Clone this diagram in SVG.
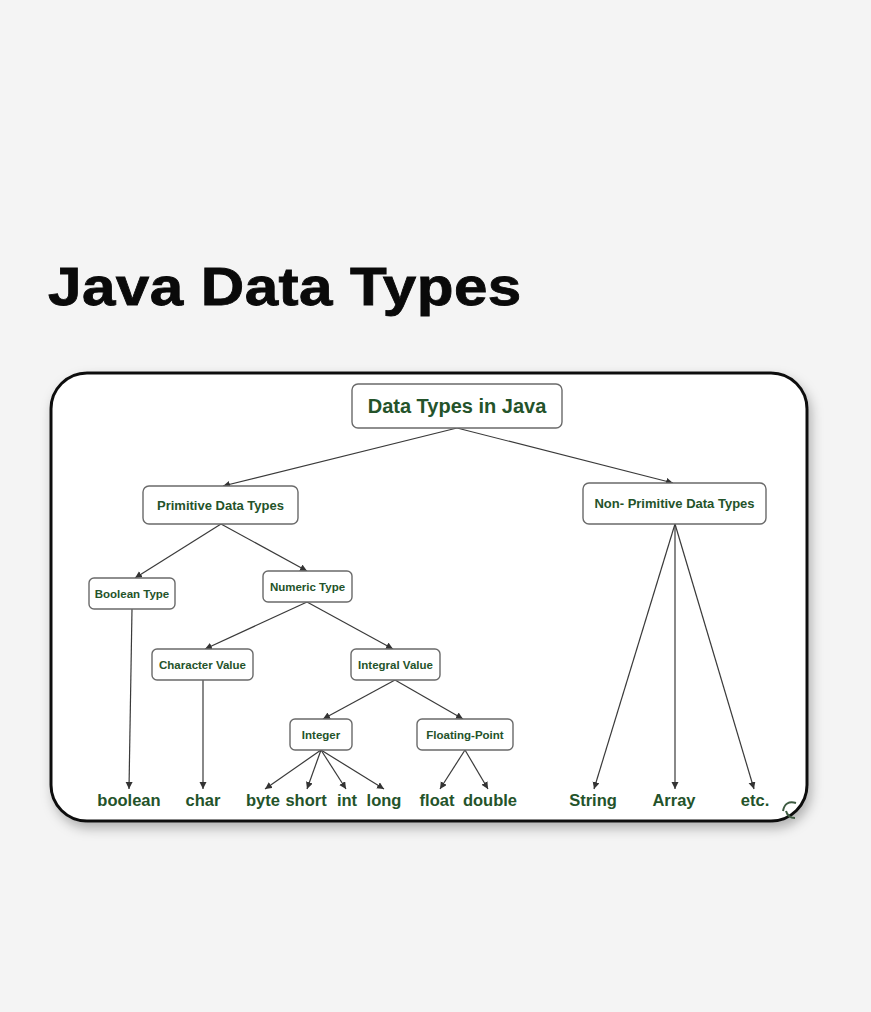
<svg xmlns="http://www.w3.org/2000/svg" width="871" height="1012" viewBox="0 0 871 1012">
  <defs>
    <filter id="shadow" x="-10%" y="-10%" width="120%" height="125%">
      <feDropShadow dx="3" dy="6" stdDeviation="6" flood-color="#000" flood-opacity="0.28"/>
    </filter>
    <marker id="arrow" markerUnits="userSpaceOnUse" markerWidth="8" markerHeight="8" refX="7" refY="3.5" orient="auto">
      <path d="M0,0 L7,3.5 L0,7 z" fill="#333"/>
    </marker>
    <style>
      .node rect { fill: #fff; stroke: #6a6a6a; stroke-width: 1.4; }
      .node text { font-family: "Liberation Sans", Arial, sans-serif; font-weight: bold; fill: #24532a; text-anchor: middle; }
      .leaf text { font-family: "Liberation Sans", Arial, sans-serif; font-weight: bold; fill: #24532a; text-anchor: middle; font-size: 16.5px; }
      .conn line { stroke: #3a3a3a; stroke-width: 1.2; marker-end: url(#arrow); }
    </style>
  </defs>

  <rect x="0" y="0" width="871" height="1012" fill="#f4f4f4"/>

  <text transform="translate(48,305) scale(1.135,1)" x="0" y="0" font-family="Liberation Sans, Arial, sans-serif" font-weight="bold" font-size="53" fill="#0a0a0a" stroke="#0a0a0a" stroke-width="0.8" textLength="417" lengthAdjust="spacing">Java Data Types</text>

  <rect x="51" y="373" width="756" height="448" rx="36" ry="36" fill="#fff" stroke="#111" stroke-width="3" filter="url(#shadow)"/>

  <g id="connectors" class="conn">
    <line x1="457" y1="428" x2="223" y2="486"/>
    <line x1="457" y1="428" x2="673" y2="483"/>
    <line x1="221" y1="524" x2="135" y2="578"/>
    <line x1="221" y1="524" x2="307" y2="571"/>
    <line x1="132" y1="609" x2="129" y2="789"/>
    <line x1="307" y1="602" x2="205" y2="649"/>
    <line x1="307" y1="602" x2="393" y2="649"/>
    <line x1="203" y1="680" x2="203" y2="789"/>
    <line x1="395" y1="680" x2="323" y2="719"/>
    <line x1="395" y1="680" x2="463" y2="719"/>
    <line x1="321" y1="750" x2="265" y2="789"/>
    <line x1="321" y1="750" x2="307" y2="789"/>
    <line x1="321" y1="750" x2="346" y2="789"/>
    <line x1="321" y1="750" x2="384" y2="789"/>
    <line x1="465" y1="750" x2="440" y2="789"/>
    <line x1="465" y1="750" x2="488" y2="789"/>
    <line x1="675" y1="524" x2="594" y2="789"/>
    <line x1="675" y1="524" x2="675" y2="789"/>
    <line x1="675" y1="524" x2="754" y2="789"/>
  </g>

  <g id="node-root" class="node">
    <rect x="352" y="384" width="210" height="44" rx="6"/>
    <text x="457" y="413" font-size="20">Data Types in Java</text>
  </g>
  <g id="node-primitive" class="node">
    <rect x="143" y="486" width="155" height="38" rx="6"/>
    <text x="220.5" y="510" font-size="13">Primitive Data Types</text>
  </g>
  <g id="node-nonprimitive" class="node">
    <rect x="583" y="483" width="183" height="41" rx="6"/>
    <text x="674.5" y="508" font-size="13">Non- Primitive Data Types</text>
  </g>
  <g id="node-boolean-type" class="node">
    <rect x="89" y="578" width="86" height="31" rx="5"/>
    <text x="132" y="597.5" font-size="11.5">Boolean Type</text>
  </g>
  <g id="node-numeric-type" class="node">
    <rect x="263" y="571" width="89" height="31" rx="5"/>
    <text x="307.5" y="590.5" font-size="11.5">Numeric Type</text>
  </g>
  <g id="node-character-value" class="node">
    <rect x="152" y="649" width="101" height="31" rx="5"/>
    <text x="202.5" y="668.5" font-size="11.5">Character Value</text>
  </g>
  <g id="node-integral-value" class="node">
    <rect x="351" y="649" width="89" height="31" rx="5"/>
    <text x="395.5" y="668.5" font-size="11.5">Integral Value</text>
  </g>
  <g id="node-integer" class="node">
    <rect x="290" y="719" width="62" height="31" rx="5"/>
    <text x="321" y="738.5" font-size="11.5">Integer</text>
  </g>
  <g id="node-floating-point" class="node">
    <rect x="417" y="719" width="96" height="31" rx="5"/>
    <text x="465" y="738.5" font-size="11.5">Floating-Point</text>
  </g>

  <g id="leaf-boolean" class="leaf"><text x="129" y="806">boolean</text></g>
  <g id="leaf-char" class="leaf"><text x="203" y="806">char</text></g>
  <g id="leaf-byte" class="leaf"><text x="263" y="806">byte</text></g>
  <g id="leaf-short" class="leaf"><text x="306" y="806">short</text></g>
  <g id="leaf-int" class="leaf"><text x="347" y="806">int</text></g>
  <g id="leaf-long" class="leaf"><text x="384" y="806">long</text></g>
  <g id="leaf-float" class="leaf"><text x="437" y="806">float</text></g>
  <g id="leaf-double" class="leaf"><text x="490" y="806">double</text></g>
  <g id="leaf-string" class="leaf"><text x="593" y="806">String</text></g>
  <g id="leaf-array" class="leaf"><text x="674" y="806">Array</text></g>
  <g id="leaf-etc" class="leaf"><text x="755" y="806">etc.</text></g>

  <path d="M783,811 Q785,800 796,803 M786,811 Q788,818 795,818" fill="none" stroke="#3d5a40" stroke-width="2"/>
</svg>
